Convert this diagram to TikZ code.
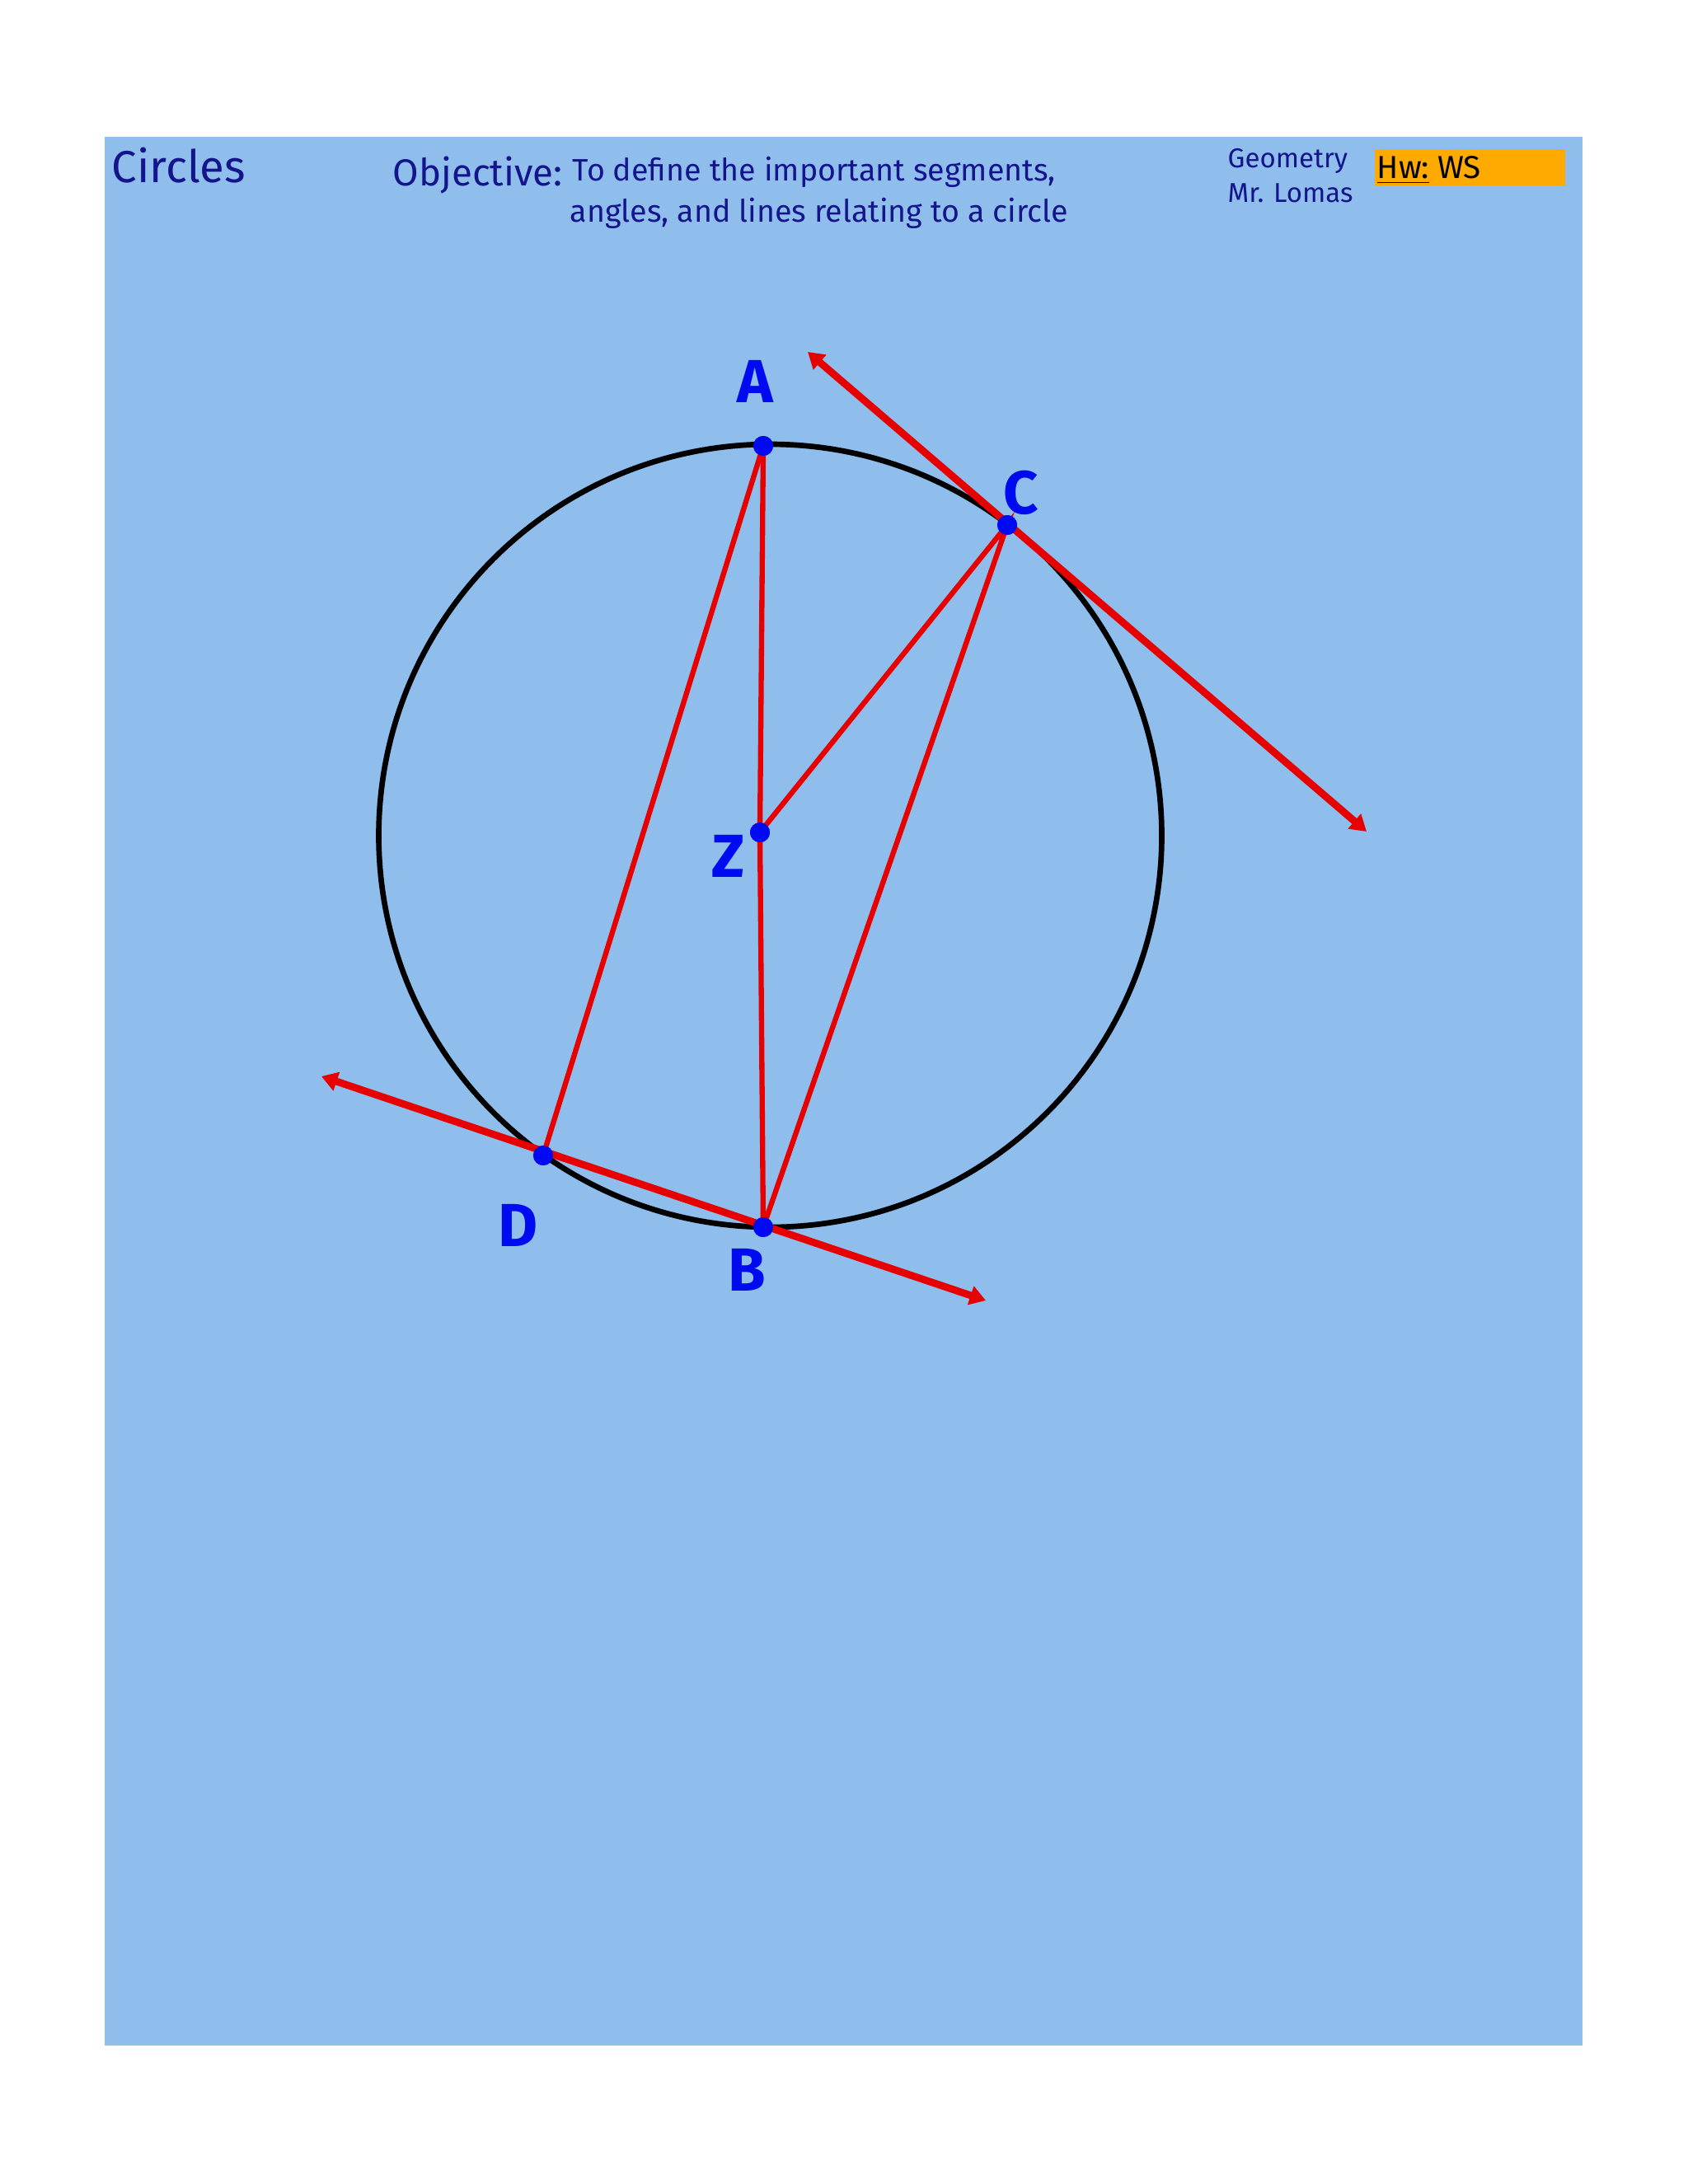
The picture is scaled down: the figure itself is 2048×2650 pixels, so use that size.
\documentclass[tikz,border=0pt]{standalone}
\usepackage{fontspec}
\setmainfont{Fira Sans}
\usetikzlibrary{arrows.meta}

\definecolor{slideblue}{RGB}{143,190,236}
\definecolor{inkblue}{RGB}{20,20,140}
\definecolor{dotblue}{RGB}{0,10,240}
\definecolor{linered}{RGB}{230,0,0}
\definecolor{hwgold}{RGB}{255,170,0}

\begin{document}
\begin{tikzpicture}[x=0.1mm,y=-0.1mm,
  pt/.style={circle,fill=dotblue,inner sep=0pt,minimum size=2.4mm},
  lab/.style={text=dotblue,font=\fontsize{21}{24}\selectfont\bfseries},
  chord/.style={draw=linered,line width=1.8pt},
  tangent/.style={draw=linered,line width=2.5pt,
    {Triangle[length=5.5pt,width=6.5pt]}-{Triangle[length=5.5pt,width=6.5pt]}},
  head/.style={text=inkblue,anchor=base west,inner sep=0pt}]
\useasboundingbox (0,0) rectangle (2048,2650);
\fill[slideblue] (127,166) rectangle (1920,2482);

% header
\node[head,font=\fontsize{15.5}{18}\selectfont] (title) at (135,221) {Circles};
\node[head,font=\fontsize{13}{16}\selectfont] (obj) at (476,225) {Objective:};
\node[head,font=\fontsize{10.7}{13}\selectfont] (obj1) at (694,219) {To define the important segments,};
\node[head,font=\fontsize{10.7}{13}\selectfont] (obj2) at (691,269) {angles, and lines relating to a circle};
\node[head,font=\fontsize{9.4}{11}\selectfont] (course) at (1489,203) {Geometry};
\node[head,font=\fontsize{9.4}{11}\selectfont] (teacher) at (1489,245) {Mr. Lomas};
\fill[hwgold] (1668,181) rectangle (1899,225);
\node[head,text=black,font=\fontsize{11}{13}\selectfont] (hw) at (1670,216) {\underline{Hw:} WS};

% circle
\draw[black,line width=1.9pt] (934.5,1014) circle (475);

% points
\node[pt] (A) at (926,541) {};
\node[pt] (B) at (926,1489) {};
\node[pt] (C) at (1222,637) {};
\node[pt] (D) at (659,1402) {};
\node[pt] (Z) at (922,1010) {};
\coordinate (c1) at (980,427);
\coordinate (c2) at (1658,1009);
\coordinate (d1) at (390,1306);
\coordinate (d2) at (1196,1578);

% segments and lines
\draw[chord] (A.center) -- (Z.center) -- (B.center);
\draw[chord] (Z.center) -- (C.center) -- (B.center);
\draw[chord] (A.center) -- (D.center);
\draw[tangent] (c1) -- (c2);
\draw[tangent] (d1) -- (d2);
\foreach \p in {A,B,C,D,Z} \node[pt] at (\p) {};

% labels
\node[lab] (labA) at (916,463) {A};
\node[lab] (labC) at (1239,598) {C};
\node[lab] (labZ) at (884,1039) {Z};
\node[lab] (labD) at (629,1487) {D};
\node[lab] (labB) at (906,1541) {B};
\end{tikzpicture}
\end{document}
